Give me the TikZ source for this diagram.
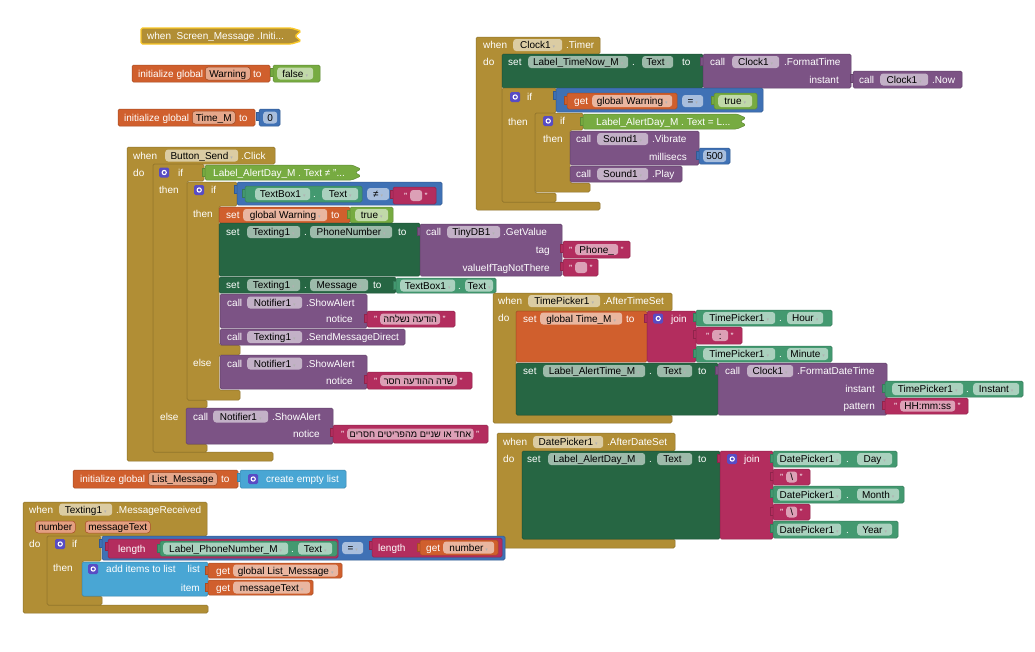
\documentclass[tikz,border=0pt]{standalone}
\usepackage{fontspec}
\setmainfont{Liberation Sans}
\newfontfamily\hebfont[Script=Hebrew]{Liberation Sans}
\newfontfamily\dejavu{DejaVu Sans}
\TeXXeTstate=1
\definecolor{cCtl}{RGB}{177,142,53}
\definecolor{cGlow}{RGB}{250,200,40}
\definecolor{cVar}{RGB}{208,95,45}
\definecolor{cLogic}{RGB}{119,171,65}
\definecolor{cMath}{RGB}{63,113,181}
\definecolor{cText}{RGB}{179,45,94}
\definecolor{cList}{RGB}{73,166,212}
\definecolor{cSet}{RGB}{38,102,67}
\definecolor{cGet}{RGB}{67,153,112}
\definecolor{cCall}{RGB}{124,83,133}
\definecolor{cGear}{RGB}{88,76,196}
\tikzset{
  every node/.style={font=\fontsize{10}{12}\selectfont, inner sep=0pt, text height=7.2pt, text depth=0pt},
  lbl/.style={anchor=west, text=white},
  lblr/.style={anchor=east, text=white},
  qst/.style={anchor=west, text=white, font=\fontsize{9}{9}\selectfont},
  pillst/.style={anchor=west, fill=white, fill opacity=0.55, text opacity=1, text=black, rounded corners=3pt, minimum height=12pt, inner xsep=2.5pt},
  namest/.style={anchor=west, fill=cVar!55!white, draw=cVar!75!black, line width=0.5pt, text=black, rounded corners=3pt, minimum height=13pt},
  parst/.style={anchor=west, fill=cVar!60!white, draw=cVar!80!black, line width=0.5pt, text=black, rounded corners=3pt, minimum height=12pt},
  gearst/.style={anchor=west, minimum size=10pt, text height=0pt, fill=cGear, rounded corners=1.5pt,
    path picture={\draw[white, line width=1.1pt] (path picture bounding box.center) circle (2.1pt);}},
  blkst/.style={rounded corners=1.5pt, line width=0.5pt},
  ctl/.style={blkst, fill=cCtl, draw=cCtl!80!black},
}
\newcommand\ddn{\hspace{2pt}{\dejavu\fontsize{5}{5}\selectfont\color{black!30}▾}}
\newcommand\heb[1]{{\hebfont\fontsize{9.2}{11}\selectfont\beginR #1\endR}}
\newcommand\blk[5]{\filldraw[blkst, fill=#1, draw=#1!80!black] (#2,#3) rectangle (#4,#5);}
\newcommand\vblk[5]{\filldraw[fill=#1, draw=#1!80!black, line width=0.5pt] ({#2-3},{#3+3}) rectangle ({#2+1},{#3+11});\filldraw[blkst, fill=#1, draw=#1!80!black] (#2,#3) rectangle (#4,#5);}
\newcommand\pl[5]{\node[pillst, minimum width={#3pt-#2pt}] (#1) at (#2,#4) {#5};}
\newcommand\nm[5]{\node[namest, minimum width={#3pt-#2pt}] (#1) at (#2,#4) {#5};}
\newcommand\lb[3]{\node[lbl] (#1) at (#2) {#3};}
\newcommand\lr[3]{\node[lblr] (#1) at (#2) {#3};}
\newcommand\gear[2]{\node[gearst] (#1) at (#2) {};}
\newcommand\tb[8]{\vblk{cText}{#2}{#4}{#3}{#5}%
  \node[pillst, minimum width={#7pt-#6pt}, minimum height=11pt] (#1) at (#6,{(#4+#5)/2}) {#8};%
  \node[qst] (#1l) at ({#6-6},{(#4+#5)/2}) {"};%
  \node[qst] (#1r) at ([xshift=2pt]#1.east) {"};}
\begin{document}
\begin{tikzpicture}[x=1pt,y=-1pt]
\fill[white] (0,0) rectangle (1035,651);
\useasboundingbox (0,0) rectangle (1035,651);

% ---- Screen_Message collapsed
\filldraw[fill=cCtl, draw=cGlow, line width=1.4pt, rounded corners=1.5pt] (141,28) -- (291,28) -- (301,31) -- (295,36) -- (301,41) -- (291,44) -- (141,44) -- cycle;
\lb{a1}{147,36}{when\ \ Screen\_Message .Initi...}

% ---- init Warning
\blk{cVar}{132}{65}{270}{82}
\lb{b1}{138,73.5}{initialize global}
\nm{b2}{205}{250}{73.5}{Warning}
\lb{b3}{253,73.5}{to}
\vblk{cLogic}{273}{65}{320}{82}
\pl{b4}{277}{313}{73.5}{false\ddn}

% ---- init Time_M
\blk{cVar}{118}{109}{255}{126}
\lb{c1}{124,117.5}{initialize global}
\nm{c2}{192}{235}{117.5}{Time\_M}
\lb{c3}{239,117.5}{to}
\vblk{cMath}{259}{109}{280}{126}
\pl{c4}{263}{277}{117.5}{0}

% ---- Button_Send.Click
\filldraw[ctl] (127,147) -- (275,147) -- (275,164) -- (153,164) -- (153,452) -- (273,452) -- (273,461) -- (127,461) -- cycle;
\lb{d1}{133,155.5}{when}
\pl{d2}{165}{238}{155.5}{Button\_Send\ddn}
\lb{d3}{241,155.5}{.Click}
\lb{d4}{133,173}{do}
\filldraw[ctl] (153,164) -- (204,164) -- (204,181) -- (187,181) -- (187,400) -- (207,400) -- (207,408) -- (187,408) -- (187,444) -- (207,444) -- (207,452) -- (153,452) -- cycle;
\gear{d5}{159,172.5}
\lb{d6}{178,172.5}{if}
\filldraw[fill=cLogic, draw=cLogic!80!black, line width=0.5pt] (202,168) rectangle (206,176);
\filldraw[blkst, fill=cLogic, draw=cLogic!80!black] (205,165) -- (352,165) -- (361,169) -- (355,172.5) -- (361,176) -- (352,180) -- (205,180) -- cycle;
\lb{d7}{213,172.5}{Label\_AlertDay\_M . Text ≠ "...}
\lb{d8}{159,189.5}{then}
\filldraw[ctl] (187,182) -- (237,182) -- (237,206) -- (219,206) -- (219,345) -- (240,345) -- (240,355) -- (219,355) -- (219,390) -- (240,390) -- (240,400) -- (187,400) -- cycle;
\gear{d9}{194,190}
\lb{d10}{211,190}{if}
\vblk{cMath}{237}{182}{442}{205}
\vblk{cGet}{245}{186}{362}{202}
\pl{d11}{255}{310}{194}{TextBox1\ddn}
\lb{d12}{313,194}{.}
\pl{d13}{322}{358}{194}{Text\ddn}
\pl{d14}{367}{389}{194}{≠\ddn}
\tb{d15}{393}{436}{187}{204}{410}{422}{}
\lb{d16}{193,214}{then}
\blk{cVar}{219}{207}{350}{223}
\lb{d17}{226,215}{set}
\pl{d18}{243}{327}{215}{global Warning\ddn}
\lb{d19}{331,215}{to}
\vblk{cLogic}{350}{207}{393}{223}
\pl{d20}{355}{388}{215}{true\ddn}
\blk{cSet}{219}{223}{420}{276}
\lb{d21}{226,232}{set}
\pl{d22}{247}{300}{232}{Texting1\ddn}
\lb{d23}{304,232}{.}
\pl{d24}{310}{392}{232}{PhoneNumber\ddn}
\lb{d25}{398,232}{to}
\vblk{cCall}{420}{224}{562}{276}
\lb{d26}{426,232}{call}
\pl{d27}{447}{500}{232}{TinyDB1\ddn}
\lb{d28}{503,232}{.GetValue}
\lr{d29}{550,249.5}{tag}
\lr{d30}{550,267.5}{valueIfTagNotThere}
\tb{d31}{563}{630}{241}{258}{575}{618}{Phone\_}
\tb{d32}{563}{598}{259}{276}{575}{587}{}
\blk{cSet}{219}{277}{396}{293}
\lb{d33}{226,285}{set}
\pl{d34}{247}{300}{285}{Texting1\ddn}
\lb{d35}{304,285}{.}
\pl{d36}{310}{368}{285}{Message\ddn}
\lb{d37}{373,285}{to}
\vblk{cGet}{396}{278}{496}{293}
\pl{d38}{400}{455}{285.5}{TextBox1\ddn}
\lb{d39}{458,285.5}{.}
\pl{d40}{465}{492}{285.5}{Text\ddn}
\blk{cCall}{220}{294}{367}{328}
\lb{d41}{227,302.5}{call}
\pl{d42}{247}{302}{302.5}{Notifier1\ddn}
\lb{d43}{306,302.5}{.ShowAlert}
\lr{d44}{353,319}{notice}
\tb{d45}{367}{455}{311}{327}{380}{440}{\heb{הודעה נשלחה}}
\blk{cCall}{220}{329}{405}{345}
\lb{d46}{227,337}{call}
\pl{d47}{247}{302}{337}{Texting1\ddn}
\lb{d48}{306,337}{.SendMessageDirect}
\lb{d49}{193,363}{else}
\blk{cCall}{220}{355}{367}{389}
\lb{d50}{227,363.5}{call}
\pl{d51}{247}{302}{363.5}{Notifier1\ddn}
\lb{d52}{306,363.5}{.ShowAlert}
\lr{d53}{353,381}{notice}
\tb{d54}{367}{472}{372}{389}{380}{457}{\heb{שדה ההודעה חסר}}
\lb{d55}{160,417}{else}
\blk{cCall}{186}{408}{333}{444}
\lb{d56}{193,416.5}{call}
\pl{d57}{213}{268}{416.5}{Notifier1\ddn}
\lb{d58}{272,416.5}{.ShowAlert}
\lr{d59}{320,434}{notice}
\tb{d60}{333}{488}{425}{443}{347}{473}{\heb{אחד או שניים מהפריטים חסרים}}

% ---- Clock1.Timer
\filldraw[ctl] (476,37) -- (600,37) -- (600,54) -- (502,54) -- (502,202) -- (600,202) -- (600,210) -- (476,210) -- cycle;
\lb{e1}{483,45}{when}
\pl{e2}{513}{562}{45}{Clock1\ddn}
\lb{e3}{566,45}{.Timer}
\lb{e4}{483,62}{do}
\blk{cSet}{502}{54}{703}{88}
\lb{e5}{508,62}{set}
\pl{e6}{528}{628}{62}{Label\_TimeNow\_M\ddn}
\lb{e7}{632,62}{.}
\pl{e8}{642}{673}{62}{Text\ddn}
\lb{e9}{682,62}{to}
\vblk{cCall}{703}{54}{851}{88}
\lb{e10}{710,62}{call}
\pl{e11}{732}{779}{62}{Clock1\ddn}
\lb{e12}{784,62}{.FormatTime}
\lr{e13}{839,79.5}{instant}
\vblk{cCall}{853}{71}{962}{88}
\lb{e14}{859,79.5}{call}
\pl{e15}{880}{928}{79.5}{Clock1\ddn}
\lb{e16}{932,79.5}{.Now}
\filldraw[ctl] (502,88) -- (556,88) -- (556,113) -- (535,113) -- (535,193) -- (556,193) -- (556,202) -- (502,202) -- cycle;
\gear{e17}{510,97}
\lb{e18}{527,97}{if}
\vblk{cMath}{556}{88}{763}{112}
\vblk{cVar}{567}{93}{677}{109}
\lb{e19}{574,101}{get}
\pl{e20}{592}{672}{101}{global Warning\ddn}
\pl{e21}{682}{703}{101}{=\ddn}
\vblk{cLogic}{714}{93}{757}{109}
\pl{e22}{718}{752}{101}{true\ddn}
\lb{e23}{508,122}{then}
\filldraw[ctl] (535,113) -- (583,113) -- (583,130) -- (570,130) -- (570,183) -- (590,183) -- (590,192) -- (535,192) -- cycle;
\gear{e24}{543,121}
\lb{e25}{560,121}{if}
\filldraw[fill=cLogic, draw=cLogic!80!black, line width=0.5pt] (580,117) rectangle (584,125);
\filldraw[blkst, fill=cLogic, draw=cLogic!80!black] (583,114) -- (737,114) -- (746,118) -- (740,121.5) -- (746,125) -- (737,129) -- (583,129) -- cycle;
\lb{e26}{596,121.5}{Label\_AlertDay\_M . Text = L...}
\lb{e27}{543,139}{then}
\blk{cCall}{570}{131}{699}{165}
\lb{e28}{576,139}{call}
\pl{e29}{597}{648}{139}{Sound1\ddn}
\lb{e30}{652,139}{.Vibrate}
\lr{e31}{687,157}{millisecs}
\vblk{cMath}{699}{148}{730}{164}
\pl{e32}{703}{726}{156}{500}
\blk{cCall}{570}{166}{682}{182}
\lb{e33}{576,174}{call}
\pl{e34}{597}{648}{174}{Sound1\ddn}
\lb{e35}{652,174}{.Play}

% ---- TimePicker1.AfterTimeSet
\filldraw[ctl] (493,293) -- (672,293) -- (672,311) -- (516,311) -- (516,415) -- (672,415) -- (672,423) -- (493,423) -- cycle;
\lb{f1}{498,301}{when}
\pl{f2}{528}{600}{301}{TimePicker1\ddn}
\lb{f3}{603,301}{.AfterTimeSet}
\lb{f4}{498,318}{do}
\blk{cVar}{516}{311}{647}{362}
\lb{f5}{523,318.5}{set}
\pl{f6}{540}{622}{318.5}{global Time\_M\ddn}
\lb{f7}{626,318.5}{to}
\vblk{cText}{647}{311}{696}{362}
\gear{f8}{653,318.5}
\lb{f9}{671,318.5}{join}
\vblk{cGet}{696}{310}{832}{326}
\pl{f10}{703}{775}{318}{TimePicker1\ddn}
\lb{f11}{779,318}{.}
\pl{f12}{787}{823}{318}{Hour\ddn}
\tb{f13}{696}{742}{327}{344}{712}{728}{:}
\vblk{cGet}{696}{346}{832}{362}
\pl{f14}{703}{775}{354}{TimePicker1\ddn}
\lb{f15}{779,354}{.}
\pl{f16}{787}{828}{354}{Minute\ddn}
\blk{cSet}{516}{363}{718}{415}
\lb{f17}{523,371}{set}
\pl{f18}{543}{645}{371}{Label\_AlertTime\_M\ddn}
\lb{f19}{649,371}{.}
\pl{f20}{657}{692}{371}{Text\ddn}
\lb{f21}{698,371}{to}
\vblk{cCall}{718}{363}{887}{415}
\lb{f22}{725,371}{call}
\pl{f23}{747}{793}{371}{Clock1\ddn}
\lb{f24}{797,371}{.FormatDateTime}
\lr{f25}{875,389}{instant}
\lr{f26}{875,406}{pattern}
\vblk{cGet}{885}{381}{1023}{397}
\pl{f27}{892}{963}{389}{TimePicker1\ddn}
\lb{f28}{966,389}{.}
\pl{f29}{973}{1019}{389}{Instant\ddn}
\tb{f30}{885}{968}{398}{414}{900}{955}{HH:mm:ss}

% ---- DatePicker1.AfterDateSet
\filldraw[ctl] (497,433) -- (675,433) -- (675,451) -- (522,451) -- (522,539) -- (675,539) -- (675,548) -- (497,548) -- cycle;
\lb{g1}{503,442}{when}
\pl{g2}{533}{603}{442}{DatePicker1\ddn}
\lb{g3}{607,442}{.AfterDateSet}
\lb{g4}{503,459}{do}
\blk{cSet}{522}{451}{720}{539}
\lb{g5}{527,459}{set}
\pl{g6}{548}{645}{459}{Label\_AlertDay\_M\ddn}
\lb{g7}{649,459}{.}
\pl{g8}{657}{692}{459}{Text\ddn}
\lb{g9}{698,459}{to}
\vblk{cText}{720}{451}{773}{539}
\gear{g10}{727,459}
\lb{g11}{744,459}{join}
\vblk{cGet}{773}{451}{897}{467}
\pl{g12}{777}{840}{459}{DatePicker1\ddn}
\lb{g13}{846,459}{.}
\pl{g14}{857}{892}{459}{Day\ddn}
\tb{g15}{773}{810}{469}{485}{786}{797}{\textbackslash}
\vblk{cGet}{773}{486}{904}{503}
\pl{g16}{777}{840}{494.5}{DatePicker1\ddn}
\lb{g17}{846,494.5}{.}
\pl{g18}{857}{899}{494.5}{Month\ddn}
\tb{g19}{773}{810}{504}{520}{786}{797}{\textbackslash}
\vblk{cGet}{773}{521}{898}{538}
\pl{g20}{777}{840}{529.5}{DatePicker1\ddn}
\lb{g21}{846,529.5}{.}
\pl{g22}{857}{892}{529.5}{Year\ddn}

% ---- init List_Message
\blk{cVar}{73}{470}{238}{488}
\lb{h1}{80,479}{initialize global}
\nm{h2}{148}{217}{479}{List\_Message}
\lb{h3}{221,479}{to}
\vblk{cList}{240}{470}{346}{488}
\gear{h4}{248,479}
\lb{h5}{266,479}{create empty list}

% ---- Texting1.MessageReceived
\filldraw[ctl] (23,502) -- (207,502) -- (207,536) -- (47,536) -- (47,605) -- (208,605) -- (208,613) -- (23,613) -- cycle;
\lb{i1}{29,509.5}{when}
\pl{i2}{59}{112}{509.5}{Texting1\ddn}
\lb{i3}{116,509.5}{.MessageReceived}
\node[parst, minimum width=40pt] (i4) at (35,527) {number};
\node[parst, minimum width=65pt] (i5) at (85,527) {messageText};
\lb{i6}{29,544}{do}
\filldraw[ctl] (47,536) -- (101,536) -- (101,561) -- (82,561) -- (82,596) -- (102,596) -- (102,605) -- (47,605) -- cycle;
\gear{i7}{55,544}
\lb{i8}{72,544}{if}
\vblk{cMath}{102}{536}{505}{560}
\vblk{cText}{108}{539}{338}{558}
\lb{i9}{118,548.5}{length}
\vblk{cGet}{160}{541}{337}{556}
\pl{i10}{163}{288}{548.5}{Label\_PhoneNumber\_M\ddn}
\lb{i11}{291,548.5}{.}
\pl{i12}{298}{332}{548.5}{Text\ddn}
\pl{i13}{342}{363}{548}{=\ddn}
\vblk{cText}{372}{538}{502}{557}
\lb{i14}{378,547.5}{length}
\vblk{cVar}{420}{540}{498}{555}
\lb{i15}{426,547.5}{get}
\pl{i16}{443}{494}{547.5}{number\ddn}
\lb{i17}{53,568}{then}
\blk{cList}{82}{562}{208}{596}
\gear{i18}{88,569}
\lb{i19}{106,569}{add items to list}
\lr{i20}{200,569}{list}
\lr{i21}{200,587.5}{item}
\vblk{cVar}{208}{563}{342}{578}
\lb{i22}{216,570.5}{get}
\pl{i23}{233}{338}{570.5}{global List\_Message\ddn}
\vblk{cVar}{208}{580}{313}{595}
\lb{i24}{216,587.5}{get}
\pl{i25}{233}{310}{587.5}{messageText\ddn}
\end{tikzpicture}
\end{document}
